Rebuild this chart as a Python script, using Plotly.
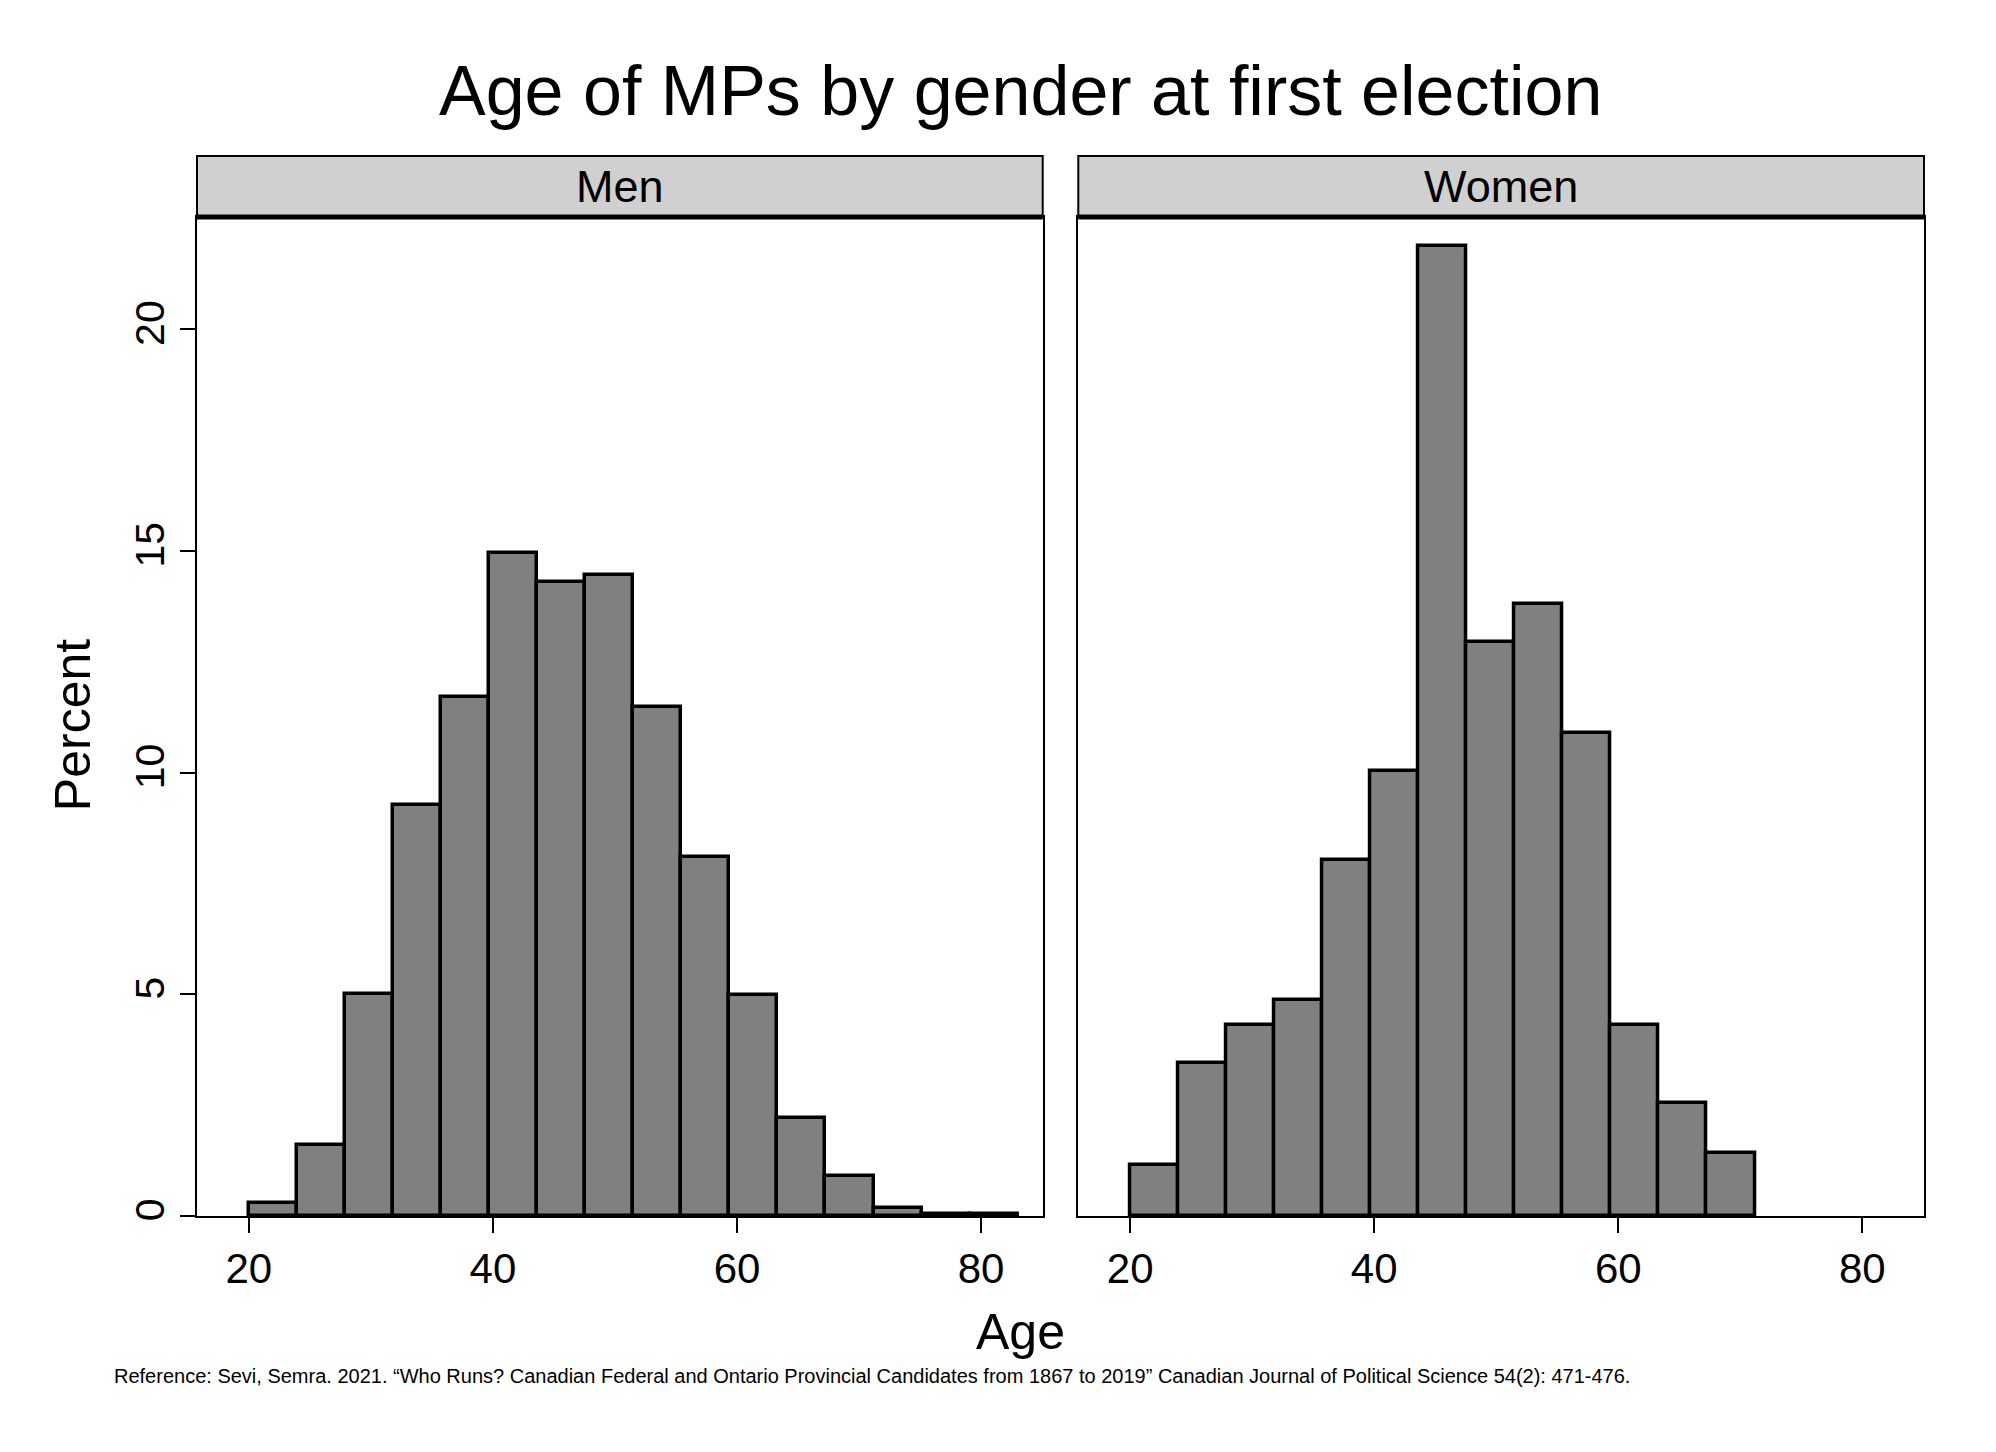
import plotly.graph_objects as go
from plotly.subplots import make_subplots

# Histogram bins (Stata style: 16 bins from 20 to 83)
bin_start = 20.0
bin_width = 3.9375

panels = ["Men", "Women"]
men_pct = [0.29, 1.6, 5.0, 9.27, 11.7, 14.95, 14.29, 14.46, 11.48, 8.09,
           4.99, 2.21, 0.89, 0.17, 0.05, 0.05]
women_pct = [1.15, 3.44, 4.30, 4.88, 8.03, 10.04, 21.87, 12.94, 13.80, 10.90,
             4.30, 2.55, 1.43]

x_ticks = [20, 40, 60, 80]
y_ticks = [0, 5, 10, 15, 20]

title_text = "Age of MPs by gender at first election"
x_title = "Age"
y_title = "Percent"
note_text = ("Reference: Sevi, Semra. 2021. \u201cWho Runs? Canadian Federal and Ontario "
             "Provincial Candidates from 1867 to 2019\u201d Canadian Journal of Political "
             "Science 54(2): 471-476.")

FONT = "Liberation Sans, Arial, Helvetica, sans-serif"
W, H = 1996, 1452
L, R, T, B = 189, 80, 148, 244
strip_frac = 0.0576

fig = make_subplots(rows=1, cols=2, horizontal_spacing=0.0206)

for col, vals in enumerate([men_pct, women_pct], start=1):
    centers = [bin_start + bin_width * (i + 0.5) for i in range(len(vals))]
    fig.add_trace(go.Bar(
        x=centers, y=vals, width=bin_width,
        marker=dict(color="#808080", line=dict(color="black", width=3.5)),
        showlegend=False, hoverinfo="x+y",
    ), row=1, col=col)

for col in (1, 2):
    fig.update_xaxes(
        range=[15.75, 85.05], tickvals=x_ticks, ticks="outside", ticklen=15,
        tickwidth=2, tickcolor="black", showline=True, linecolor="black",
        linewidth=2, mirror=True, showgrid=False, zeroline=False,
        tickfont=dict(size=42, color="black", family=FONT),
        row=1, col=col,
    )
    fig.update_yaxes(
        range=[0, 22.53], domain=[0, 1 - strip_frac], tickvals=y_ticks,
        ticks="outside" if col == 1 else "", ticklen=15, tickwidth=2,
        tickcolor="black", tickangle=-90, showticklabels=(col == 1),
        showline=True, linecolor="black", linewidth=2, mirror=True,
        showgrid=False, zeroline=False,
        tickfont=dict(size=41, color="black", family=FONT),
        row=1, col=col,
    )

# facet strips
shapes = []
annotations = []
for i, name in enumerate(panels):
    dom = fig.layout["xaxis" if i == 0 else "xaxis2"].domain
    shapes.append(dict(type="rect", xref="paper", yref="paper",
                       x0=dom[0], x1=dom[1], y0=1 - strip_frac, y1=1,
                       fillcolor="#d0d0d0", line=dict(color="black", width=2)))
    shapes.append(dict(type="line", xref="paper", yref="paper",
                       x0=dom[0], x1=dom[1], y0=1 - strip_frac, y1=1 - strip_frac,
                       line=dict(color="black", width=5)))
    annotations.append(dict(text=name, xref="paper", yref="paper",
                            x=(dom[0] + dom[1]) / 2, y=1 - strip_frac / 2,
                            showarrow=False, xanchor="center", yanchor="middle",
                            font=dict(size=45, color="black", family=FONT)))

annotations += [
    dict(text=title_text, xref="paper", yref="paper", x=0.4768, y=1.061,
         showarrow=False, xanchor="center", yanchor="middle",
         font=dict(size=70, color="black", family=FONT)),
    dict(text=x_title, xref="paper", yref="paper", x=0.4768, y=-0.1093,
         showarrow=False, xanchor="center", yanchor="middle",
         font=dict(size=50, color="black", family=FONT)),
    dict(text=y_title, xref="paper", yref="paper", x=-0.0721, y=0.4635,
         showarrow=False, xanchor="center", yanchor="middle", textangle=-90,
         font=dict(size=50, color="black", family=FONT)),
    dict(text=note_text, xref="paper", yref="paper", x=-0.0492, y=-0.1513,
         showarrow=False, xanchor="left", yanchor="middle",
         font=dict(size=20, color="black", family=FONT)),
]

fig.update_layout(
    width=W, height=H,
    margin=dict(l=L, r=R, t=T, b=B),
    paper_bgcolor="white", plot_bgcolor="white",
    bargap=0, shapes=shapes, annotations=annotations,
    font=dict(family=FONT, color="black"),
)

fig.write_html("out.html")
